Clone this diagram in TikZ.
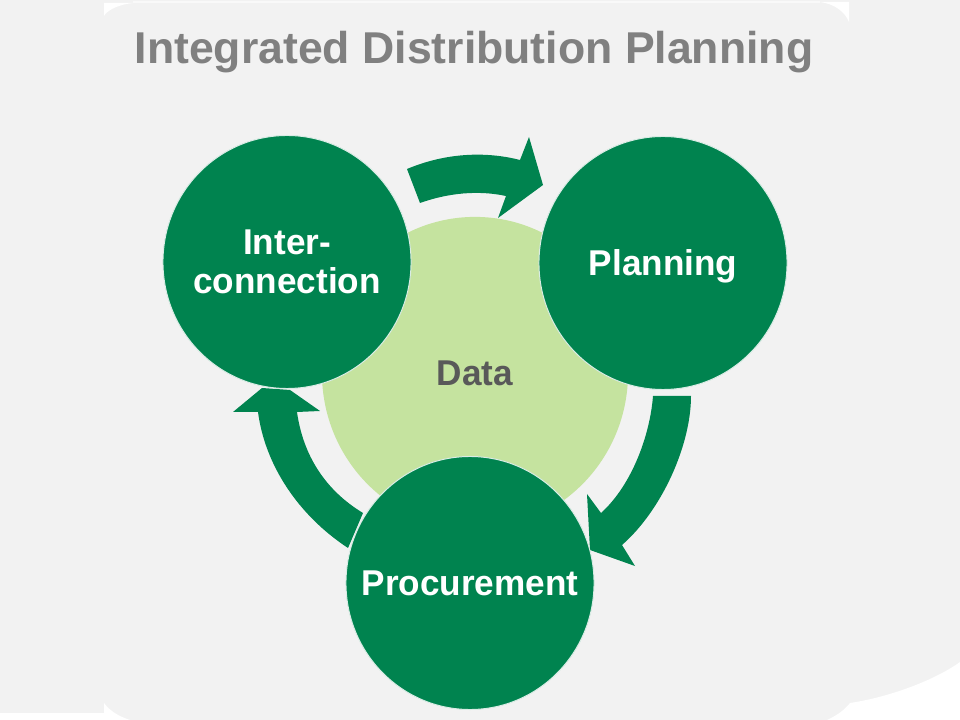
\documentclass[tikz,border=0pt]{standalone}
\usepackage{fontspec}
\setmainfont{Liberation Sans}
\definecolor{panelgray}{HTML}{F2F2F2}
\definecolor{titlegray}{HTML}{808080}
\definecolor{datagray}{HTML}{595959}
\definecolor{darkgreen}{HTML}{00834F}
\definecolor{lightgreen}{HTML}{C5E39F}
\tikzset{
  stage/.style={circle,fill=darkgreen,draw=white!85!darkgreen,line width=0.7pt,minimum size=6.2cm,inner sep=0pt,
    yscale=1.02,transform shape,
    text=white,align=center,font=\fontsize{25}{27}\selectfont\bfseries},
  blockarrow/.style={fill=darkgreen,draw=none},
  whitecorner/.style={fill=white,draw=none}
}

\begin{document}
\begin{tikzpicture}[x=0.025cm,y=-0.025cm]
  \useasboundingbox (0,0) rectangle (960,720);
  \fill[panelgray] (0,0) rectangle (960,720);

  % corners of the panel
  \fill[whitecorner] (104,3) -- (133,3) .. controls (115,5) and (106,12) .. (104,16) -- cycle;
  \fill[whitecorner] (849,2) -- (820,2) .. controls (835,4) and (845,12) .. (849,22) -- cycle;
  \fill[whitecorner] (0,720) -- (0,713) -- (104,713) -- (104,703) .. controls (110,711) and (118,716) .. (130,720) -- cycle;
  \fill[whitecorner] (827,720) .. controls (840,714) and (846,708) .. (850,703)
    .. controls (890,697) and (935,680) .. (960,662) -- (960,720) -- cycle;
  \fill[white!50!panelgray] (133,1) rectangle (820,3);

  \node[font=\fontsize{31.7}{34}\selectfont\bfseries,text=titlegray] (title) at (474,52) {Integrated Distribution Planning};

  \node[circle,fill=lightgreen,minimum size=7.65cm,inner sep=0pt,yscale=1.02,transform shape,text=datagray,font=\fontsize{25}{27}\selectfont\bfseries] (data) at (475,373) {Data};

  % top arrow
  \fill[blockarrow] (407,169) .. controls (445,153) and (485,151) .. (520,160) -- (529,137) -- (543,185)
    -- (498,218) -- (506,196) .. controls (478,190) and (448,193) .. (420,203) -- cycle;
  % right arrow
  \fill[blockarrow] (653,396) -- (691,396) .. controls (691,445) and (662,510) .. (622,545) -- (635,566) -- (590,550)
    -- (587,494) -- (601,513) .. controls (632,485) and (650,435) .. (653,396) -- cycle;
  % left arrow
  \fill[blockarrow] (363,513) .. controls (325,490) and (303,455) .. (297,412) -- (320,411) -- (290,390) -- (262,388)
    -- (233,412) -- (258,412) .. controls (265,465) and (298,515) .. (348,548) -- cycle;

  \node[stage] (interconnection) at (287,262) {Inter-\\connection};
  \node[stage,text depth=0pt] (planning) at (663,263) {Planning};
  \node[stage] (procurement) at (470,583) {Procurement};
\end{tikzpicture}
\end{document}
